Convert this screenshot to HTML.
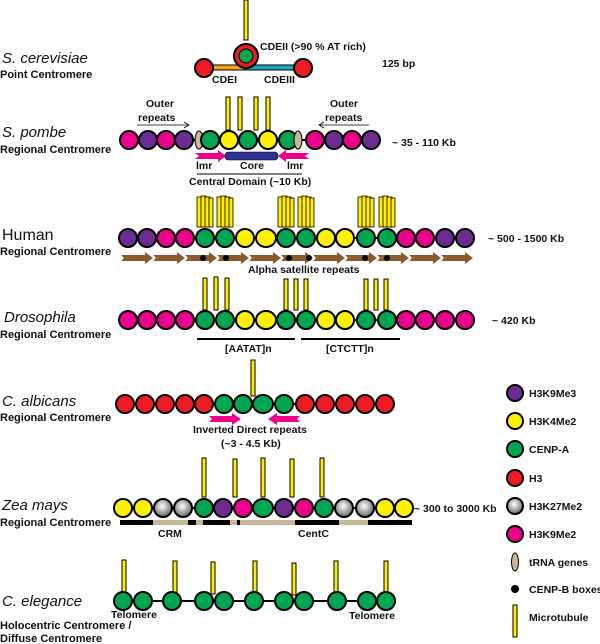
<!DOCTYPE html>
<html><head><meta charset="utf-8"><style>
html,body{margin:0;padding:0;background:#fff;width:600px;height:644px;overflow:hidden}
svg{display:block;font-family:"Liberation Sans",sans-serif}
.t{font-weight:bold;font-size:10.5px;fill:#111}
.sp{font-size:15px;font-style:italic;fill:#111}
.sub{font-weight:bold;font-size:11px;fill:#111}
.mt{fill:#ffee00;stroke:#000;stroke-width:1}
circle{stroke:#000;stroke-width:2}
.Pu{fill:#6a2c91}.Ye{fill:#fff200}.Gr{fill:#00a651}.Re{fill:#ed1c24}.Gy{fill:url(#gg)}.Ma{fill:#ec008c}
</style></head><body>
<svg width="600" height="644" viewBox="0 0 600 644">
<defs>
<radialGradient id="gg" cx="0.45" cy="0.4" r="0.6"><stop offset="0" stop-color="#fff"/><stop offset="1" stop-color="#666"/></radialGradient>
</defs>

<!-- S. cerevisiae -->
<text class="sp" x="2" y="63">S. cerevisiae</text>
<text class="sub" x="0" y="78">Point Centromere</text>
<rect class="mt" x="244" y="0" width="4" height="40"/>
<rect x="203" y="65" width="42" height="5" fill="#f7a11a" stroke="#000" stroke-width="1"/>
<rect x="245" y="65" width="58" height="5" fill="#1ba5b8" stroke="#000" stroke-width="1"/>
<circle cx="246" cy="56" r="12" fill="#ed1c24"/>
<circle cx="246" cy="56" r="7" class="Gr" style="stroke-width:1"/>
<circle cx="204" cy="68" r="9" class="Re"/>
<circle cx="303" cy="68" r="9" class="Re"/>
<text class="t" x="260" y="50">CDEII  (&gt;90 % AT rich)</text>
<text class="t" x="212" y="83">CDEI</text>
<text class="t" x="264" y="83">CDEIII</text>
<text class="t" x="382" y="67">125 bp</text>

<!-- S. pombe -->
<text class="sp" x="2" y="137">S. pombe</text>
<text class="sub" x="0" y="153">Regional Centromere</text>
<text class="t" x="146" y="107">Outer</text><text class="t" x="138" y="121">repeats</text>
<text class="t" x="330" y="107">Outer</text><text class="t" x="325" y="121">repeats</text>
<line x1="137" y1="125" x2="188" y2="125" stroke="#000" stroke-width="0.8"/><path d="M184 122 L189 125 L184 128" fill="none" stroke="#000" stroke-width="0.8"/>
<line x1="320" y1="125" x2="369" y2="125" stroke="#000" stroke-width="0.8"/><path d="M324 122 L319 125 L324 128" fill="none" stroke="#000" stroke-width="0.8"/>
<rect class="mt" x="226" y="97" width="4" height="33"/><rect class="mt" x="238" y="97" width="4" height="33"/>
<rect class="mt" x="254" y="97" width="4" height="33"/><rect class="mt" x="266" y="97" width="4" height="33"/>
<line x1="129" y1="140" x2="371" y2="140" stroke="#000" stroke-width="2"/>
<circle cx="129" cy="140" r="9" class="Ma"/><circle cx="148" cy="140" r="9" class="Pu"/><circle cx="166" cy="140" r="9" class="Ma"/><circle cx="184" cy="140" r="9" class="Pu"/>
<ellipse cx="199" cy="140" rx="4" ry="9" fill="#c8b89a" stroke="#000" stroke-width="1"/>
<circle cx="210" cy="140" r="9" class="Gr"/><circle cx="229" cy="140" r="9" class="Ye"/><circle cx="248" cy="140" r="9" class="Gr"/><circle cx="268" cy="140" r="9" class="Ye"/><circle cx="288" cy="140" r="9" class="Gr"/>
<ellipse cx="298" cy="140" rx="4" ry="9" fill="#c8b89a" stroke="#000" stroke-width="1"/>
<circle cx="315" cy="140" r="9" class="Ma"/><circle cx="334" cy="140" r="9" class="Pu"/><circle cx="352" cy="140" r="9" class="Ma"/><circle cx="371" cy="140" r="9" class="Pu"/>
<text class="t" x="392" y="146">~ 35 - 110 Kb</text>
<path d="M195 153 L218 153 L218 150 L226 156 L218 162 L218 159 L195 159 L199 156Z" fill="#ec008c"/>
<rect x="225" y="152" width="53" height="8" rx="3" fill="#2e3192" stroke="#000" stroke-width="0.5"/>
<path d="M309 153 L286 153 L286 150 L278 156 L286 162 L286 159 L309 159 L305 156Z" fill="#ec008c"/>
<text class="t" x="196" y="169">lmr</text><text class="t" x="240" y="169">Core</text><text class="t" x="287" y="169">lmr</text>
<line x1="197" y1="174" x2="302" y2="174" stroke="#000" stroke-width="1"/>
<text class="t" x="189" y="185">Central Domain (~10 Kb)</text>

<!-- Human -->
<text x="2" y="240" style="font-size:16px;fill:#111">Human</text>
<text class="sub" x="0" y="255">Regional Centromere</text>
<g fill="#ffee00" stroke="#000" stroke-width="0.8">
<g id="b"><rect x="197" y="197" width="5" height="30"/><rect x="201" y="196" width="5" height="31"/><rect x="205" y="197" width="5" height="30"/><rect x="209" y="198" width="4" height="29"/></g>
<use href="#b" x="20"/><use href="#b" x="81"/><use href="#b" x="101"/><use href="#b" x="161"/><use href="#b" x="182"/>
</g>
<line x1="128" y1="238" x2="465" y2="238" stroke="#000" stroke-width="2"/>
<circle cx="128" cy="238" r="9" class="Pu"/><circle cx="147" cy="238" r="9" class="Pu"/><circle cx="166" cy="238" r="9" class="Ma"/><circle cx="185" cy="238" r="9" class="Ma"/>
<circle cx="205" cy="238" r="9" class="Gr"/><circle cx="225" cy="238" r="9" class="Gr"/><circle cx="245" cy="238" r="9" class="Ye"/><ellipse cx="266" cy="238" rx="10" ry="9" class="Ye" stroke="#000" stroke-width="2"/>
<circle cx="286" cy="238" r="9" class="Gr"/><circle cx="306" cy="238" r="9" class="Gr"/><circle cx="326" cy="238" r="9" class="Ye"/><circle cx="345" cy="238" r="9" class="Ye"/>
<circle cx="366" cy="238" r="9" class="Gr"/><circle cx="387" cy="238" r="9" class="Gr"/><circle cx="406" cy="238" r="9" class="Ma"/><circle cx="425" cy="238" r="9" class="Ma"/><circle cx="445" cy="238" r="9" class="Pu"/><circle cx="465" cy="238" r="9" class="Pu"/>
<text class="t" x="488" y="242">~ 500 - 1500 Kb</text>
<g fill="#8b5a2b">
<g id="ar"><path d="M121 255 L145 255 L145 252 L153 258 L145 264 L145 261 L121 261 L124 258Z"/></g>
<use href="#ar" x="32"/><use href="#ar" x="64"/><use href="#ar" x="96"/><use href="#ar" x="128"/><use href="#ar" x="160"/><use href="#ar" x="192"/><use href="#ar" x="224"/><use href="#ar" x="256"/><use href="#ar" x="288"/><use href="#ar" x="320"/>
</g>
<g fill="#000"><circle cx="203" cy="258" r="3" style="stroke:none"/><circle cx="226" cy="258" r="3" style="stroke:none"/><circle cx="289" cy="258" r="3" style="stroke:none"/><circle cx="309" cy="258" r="3" style="stroke:none"/><circle cx="365" cy="258" r="3" style="stroke:none"/><circle cx="387" cy="258" r="3" style="stroke:none"/></g>
<text class="t" x="248" y="273">Alpha satellite repeats</text>

<!-- Drosophila -->
<text class="sp" x="4" y="322">Drosophila</text>
<text class="sub" x="0" y="338">Regional Centromere</text>
<rect class="mt" x="203" y="278" width="4" height="32"/><rect class="mt" x="214" y="277" width="4" height="33"/><rect class="mt" x="225" y="278" width="4" height="32"/>
<rect class="mt" x="284" y="279" width="4" height="31"/><rect class="mt" x="294" y="279" width="4" height="31"/><rect class="mt" x="304" y="279" width="4" height="31"/>
<rect class="mt" x="364" y="279" width="4" height="31"/><rect class="mt" x="374" y="279" width="4" height="31"/><rect class="mt" x="384" y="279" width="4" height="31"/>
<line x1="128" y1="320" x2="465" y2="320" stroke="#000" stroke-width="2"/>
<circle cx="128" cy="320" r="9" class="Ma"/><circle cx="147" cy="320" r="9" class="Ma"/><circle cx="166" cy="320" r="9" class="Ma"/><circle cx="185" cy="320" r="9" class="Ma"/>
<circle cx="205" cy="320" r="9" class="Gr"/><circle cx="225" cy="320" r="9" class="Gr"/><circle cx="245" cy="320" r="9" class="Ye"/><ellipse cx="266" cy="320" rx="10" ry="9" class="Ye" stroke="#000" stroke-width="2"/>
<circle cx="286" cy="320" r="9" class="Gr"/><circle cx="306" cy="320" r="9" class="Gr"/><circle cx="326" cy="320" r="9" class="Ye"/><circle cx="345" cy="320" r="9" class="Ye"/>
<circle cx="366" cy="320" r="9" class="Gr"/><circle cx="387" cy="320" r="9" class="Gr"/><circle cx="406" cy="320" r="9" class="Ma"/><circle cx="425" cy="320" r="9" class="Ma"/><circle cx="445" cy="320" r="9" class="Ma"/><circle cx="465" cy="320" r="9" class="Ma"/>
<text class="t" x="492" y="324">~ 420 Kb</text>
<line x1="197" y1="339" x2="295" y2="339" stroke="#000" stroke-width="2"/><line x1="301" y1="339" x2="400" y2="339" stroke="#000" stroke-width="2"/>
<text class="t" x="225" y="352">[AATAT]n</text><text class="t" x="326" y="352">[CTCTT]n</text>

<!-- C. albicans -->
<text class="sp" x="2" y="406">C. albicans</text>
<text class="sub" x="0" y="421">Regional Centromere</text>
<rect class="mt" x="251" y="360" width="4" height="36"/>
<line x1="125" y1="404" x2="385" y2="404" stroke="#000" stroke-width="2"/>
<circle cx="125" cy="404" r="9" class="Re"/><circle cx="145" cy="404" r="9" class="Re"/><circle cx="165" cy="404" r="9" class="Re"/><circle cx="185" cy="404" r="9" class="Re"/><circle cx="204" cy="404" r="9" class="Re"/>
<circle cx="224" cy="404" r="9" class="Gr"/><circle cx="243" cy="404" r="9" class="Gr"/><ellipse cx="263" cy="404" rx="10" ry="9" class="Gr" stroke="#000" stroke-width="2"/><circle cx="284" cy="404" r="9" class="Gr"/>
<circle cx="305" cy="404" r="9" class="Re"/><circle cx="325" cy="404" r="9" class="Re"/><circle cx="345" cy="404" r="9" class="Re"/><circle cx="365" cy="404" r="9" class="Re"/><circle cx="385" cy="404" r="9" class="Re"/>
<path d="M209 416 L232 416 L232 413 L241 419 L232 425 L232 422 L209 422 L212 419Z" fill="#ec008c"/>
<path d="M300 416 L277 416 L277 413 L268 419 L277 425 L277 422 L300 422 L297 419Z" fill="#ec008c"/>
<text class="t" x="193" y="433">Inverted Direct repeats</text>
<text class="t" x="221" y="447">(~3 - 4.5 Kb)</text>

<!-- Zea mays -->
<text class="sp" x="2" y="510">Zea mays</text>
<text class="sub" x="0" y="526">Regional Centromere</text>
<rect class="mt" x="202" y="458" width="4" height="39"/><rect class="mt" x="233" y="459" width="4" height="38"/><rect class="mt" x="261" y="458" width="4" height="39"/><rect class="mt" x="290" y="459" width="4" height="38"/><rect class="mt" x="320" y="458" width="4" height="39"/>
<line x1="123" y1="508" x2="404" y2="508" stroke="#000" stroke-width="2"/>
<circle cx="123" cy="508" r="9" class="Ye"/><circle cx="143" cy="508" r="9" class="Ye"/><circle cx="163" cy="508" r="9" class="Gy"/><circle cx="183" cy="508" r="9" class="Gy"/>
<circle cx="204" cy="508" r="9" class="Gr"/><circle cx="223" cy="508" r="9" class="Pu"/><circle cx="243" cy="508" r="9" class="Ma"/><ellipse cx="263" cy="508" rx="10" ry="9" class="Gr" stroke="#000" stroke-width="2"/>
<circle cx="284" cy="508" r="9" class="Pu"/><circle cx="304" cy="508" r="9" class="Ma"/><circle cx="324" cy="508" r="9" class="Gr"/><circle cx="344" cy="508" r="9" class="Gy"/><circle cx="365" cy="508" r="9" class="Gy"/><circle cx="385" cy="508" r="9" class="Ye"/><circle cx="404" cy="508" r="9" class="Ye"/>
<text class="t" x="414" y="512">~ 300 to 3000 Kb</text>
<rect x="120" y="520" width="292" height="5" fill="#c8b89a"/>
<g fill="#000"><rect x="120" y="520" width="33" height="5"/><rect x="188" y="520" width="8" height="5"/><rect x="203" y="520" width="27" height="5"/><rect x="237" y="520" width="3" height="5"/><rect x="295" y="520" width="44" height="5"/><rect x="368" y="520" width="44" height="5"/></g>
<text class="t" x="158" y="537">CRM</text><text class="t" x="298" y="537">CentC</text>

<!-- C. elegance -->
<text class="sp" x="2" y="606">C. elegance</text>
<text class="sub" x="0" y="629">Holocentric Centromere /</text>
<text class="sub" x="0" y="642">Diffuse Centromere</text>
<rect class="mt" x="122" y="560" width="4" height="33"/><rect class="mt" x="173" y="561" width="4" height="32"/><rect class="mt" x="211" y="562" width="4" height="32"/><rect class="mt" x="253" y="561" width="4" height="32"/><rect class="mt" x="292" y="563" width="4" height="32"/><rect class="mt" x="334" y="561" width="4" height="32"/><rect class="mt" x="384" y="561" width="4" height="32"/>
<line x1="123" y1="601" x2="385" y2="601" stroke="#000" stroke-width="2"/>
<circle cx="123" cy="601" r="9" class="Gr"/><circle cx="143" cy="601" r="9" class="Gr"/><circle cx="172" cy="601" r="9" class="Gr"/><circle cx="204" cy="601" r="9" class="Gr"/><circle cx="224" cy="601" r="9" class="Gr"/><circle cx="254" cy="601" r="9" class="Gr"/><circle cx="284" cy="601" r="9" class="Gr"/><circle cx="304" cy="601" r="9" class="Gr"/><circle cx="337" cy="601" r="9" class="Gr"/><circle cx="367" cy="601" r="9" class="Gr"/><circle cx="386" cy="601" r="9" class="Gr"/>
<text class="t" x="111" y="618">Telomere</text><text class="t" x="349" y="619">Telomere</text>

<!-- Legend -->
<circle cx="515" cy="393" r="8" class="Pu"/><text class="t" x="529" y="397">H3K9Me3</text>
<circle cx="515" cy="421" r="8" class="Ye"/><text class="t" x="529" y="425">H3K4Me2</text>
<circle cx="515" cy="449" r="8" class="Gr"/><text class="t" x="529" y="453">CENP-A</text>
<circle cx="515" cy="478" r="8" class="Re"/><text class="t" x="529" y="482">H3</text>
<circle cx="515" cy="506" r="8" class="Gy"/><text class="t" x="529" y="510">H3K27Me2</text>
<circle cx="515" cy="534" r="8" class="Ma"/><text class="t" x="529" y="538">H3K9Me2</text>
<ellipse cx="515" cy="562" rx="3.5" ry="9" fill="#c8b89a" stroke="#000" stroke-width="1"/><text class="t" x="529" y="566">tRNA genes</text>
<circle cx="515" cy="589" r="4" fill="#000" style="stroke:none"/><text class="t" x="529" y="593">CENP-B boxes</text>
<rect class="mt" x="513" y="605" width="4" height="32"/><text class="t" x="529" y="621">Microtubule</text>
</svg>
</body></html>
